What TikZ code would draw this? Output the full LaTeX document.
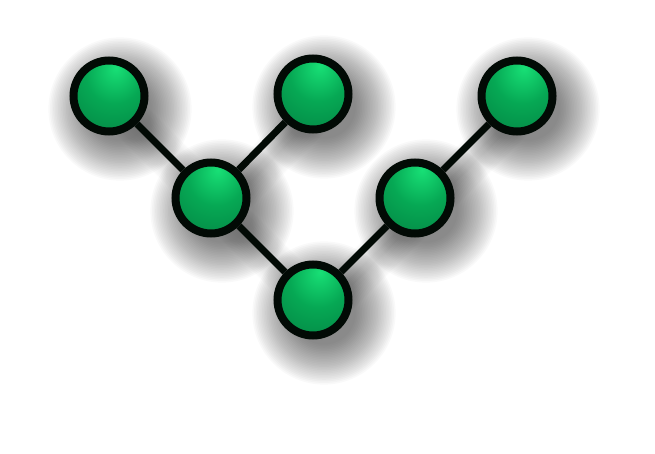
\documentclass[tikz,border=0pt]{standalone}
\usepackage{tikz}
\usetikzlibrary{backgrounds}

\definecolor{ballhi}{RGB}{24,224,118}
\definecolor{ballmid}{RGB}{6,168,84}
\definecolor{balldark}{RGB}{3,112,58}
\definecolor{ringcol}{RGB}{2,10,5}

\pgfdeclareradialshading{greenball}{\pgfpoint{5bp}{20bp}}{%
  color(0bp)=(ballhi); color(20bp)=(ballmid); color(56bp)=(balldark); color(75bp)=(balldark)}

\tikzset{
  ball/.style={circle, inner sep=0pt, minimum size=71pt, line width=8pt, draw=ringcol, shading=greenball},
  link/.style={line width=7pt, draw=ringcol},
}

\begin{document}
\begin{tikzpicture}[x=1pt, y=-1pt]
 	\useasboundingbox (0,0) rectangle (655,454);
 	%%%	Help Lines
% 	\draw [thin, help lines] (0,0) grid[step=50] (655,454);
 	%%%	Nodi
 	% fila alta
 	\node[ball] (topL) at (109,96) {};
 	\node[ball] (topM) at (313,94) {};
 	\node[ball] (topR) at (517,96) {};
 	% fila media
 	\node[ball] (midL) at (211,198) {};
 	\node[ball] (midR) at (415,198) {};
 	% radice
 	\node[ball] (root) at (313,300) {};
 	
 	%%%	Ombre e collegamenti
 	\begin{scope}[on background layer]
 	% Ombra sfumata dei nodi
 	\foreach \k in {1,...,26} {
 		\begin{scope}[transparency group, opacity=0.024, black]
 		\foreach \n in {topL, topM, topR, midL, midR, root}
 		\fill ([shift={(11,13)}]\n.center) circle ({30+1.6*\k});
 		\end{scope}
 	}
 	% Ombra sfumata dei collegamenti
 	\foreach \k in {1,...,16} {
 		\begin{scope}[transparency group, opacity=0.01, black]
 		\draw[line width={4+2.4*\k}] ([shift={(9,11)}]topL.center) -- ([shift={(9,11)}]midL.center) -- ([shift={(9,11)}]root.center) -- ([shift={(9,11)}]midR.center) -- ([shift={(9,11)}]topR.center);
 		\draw[line width={4+2.4*\k}] ([shift={(9,11)}]topM.center) -- ([shift={(9,11)}]midL.center);
 		\end{scope}
 	}
 	% Collegamenti
 	\draw[link] (topL) -- (midL);
 	\draw[link] (topM) -- (midL);
 	\draw[link] (midL) -- (root);
 	\draw[link] (root) -- (midR);
 	\draw[link] (midR) -- (topR);
 	\end{scope}
\end{tikzpicture}
\end{document}
